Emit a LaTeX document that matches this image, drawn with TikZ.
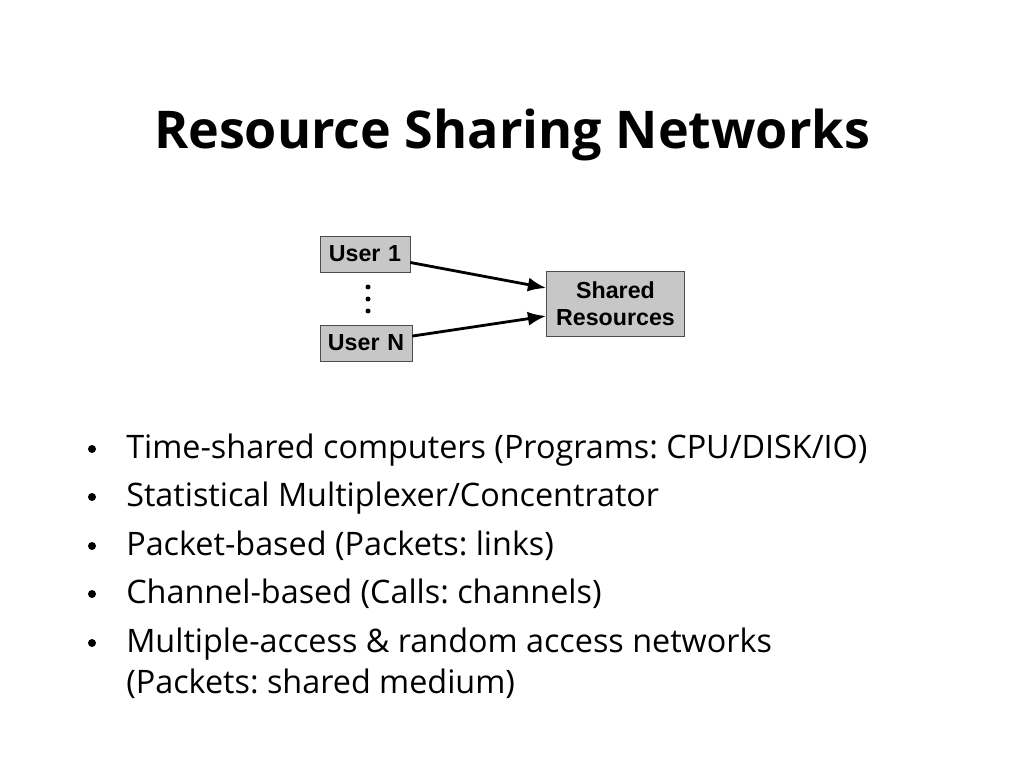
\documentclass[tikz,border=0pt]{standalone}
\usepackage{fontspec}
\setmainfont{Open Sans}
\newfontfamily\boxfont{Liberation Sans}
\usetikzlibrary{positioning, arrows.meta}
\frenchspacing
\begin{document}
\begin{tikzpicture}[x=0.025cm,y=-0.025cm,
		userbox/.style={draw=black!70, fill=black!22, font=\boxfont\bfseries\fontsize{16.5}{19}\selectfont, inner sep=0pt, align=center},
		bullet/.style={anchor=base west, inner sep=0pt, font=\fontsize{23}{27}\selectfont}]
		
		%Area della slide
		\useasboundingbox (0,0) rectangle (1024,768);
		
		\node (title) at (512,135) [font=\bfseries\fontsize{37}{42}\selectfont] {Resource Sharing Networks};
		
		%Diagramma
		\node (user1) at (365,254) [userbox, text width=2.25cm, minimum height=0.9cm] {User 1};
		\node (userN) at (366,343) [userbox, text width=2.3cm, minimum height=0.9cm] {User N};
		\node (shared) at (615.5,303.5) [userbox, text width=3.45cm, minimum height=1.62cm] {Shared\\Resources};
		\foreach \y in {287,299,311}
			\fill (368,\y) circle (2.5);
		
		\draw[-{Latex[length=13pt,width=10pt]}, line width=2pt] (user1) -- (shared.west |- 0,288);
		\draw[-{Latex[length=13pt,width=10pt]}, line width=2pt] (userN) -- (shared.west |- 0,316);
		
		%Elenco puntato
		\node (b1) at (126,458) [bullet] {Time-shared computers (Programs: CPU/DISK/IO)};
		\node (b2) at (126,506) [bullet] {Statistical Multiplexer/Concentrator};
		\node (b3) at (126,555) [bullet] {Packet-based (Packets: links)};
		\node (b4) at (126,603) [bullet] {Channel-based (Calls: channels)};
		\node (b5) at (126,652) [bullet] {Multiple-access \& random access networks};
		\node (b6) at (126,693) [bullet] {(Packets: shared medium)};
		\foreach \n in {b1,b2,b3,b4,b5}
			\fill (92,0 |- \n.base) ++(0,-9) circle (4);
		
\end{tikzpicture}
\end{document}
